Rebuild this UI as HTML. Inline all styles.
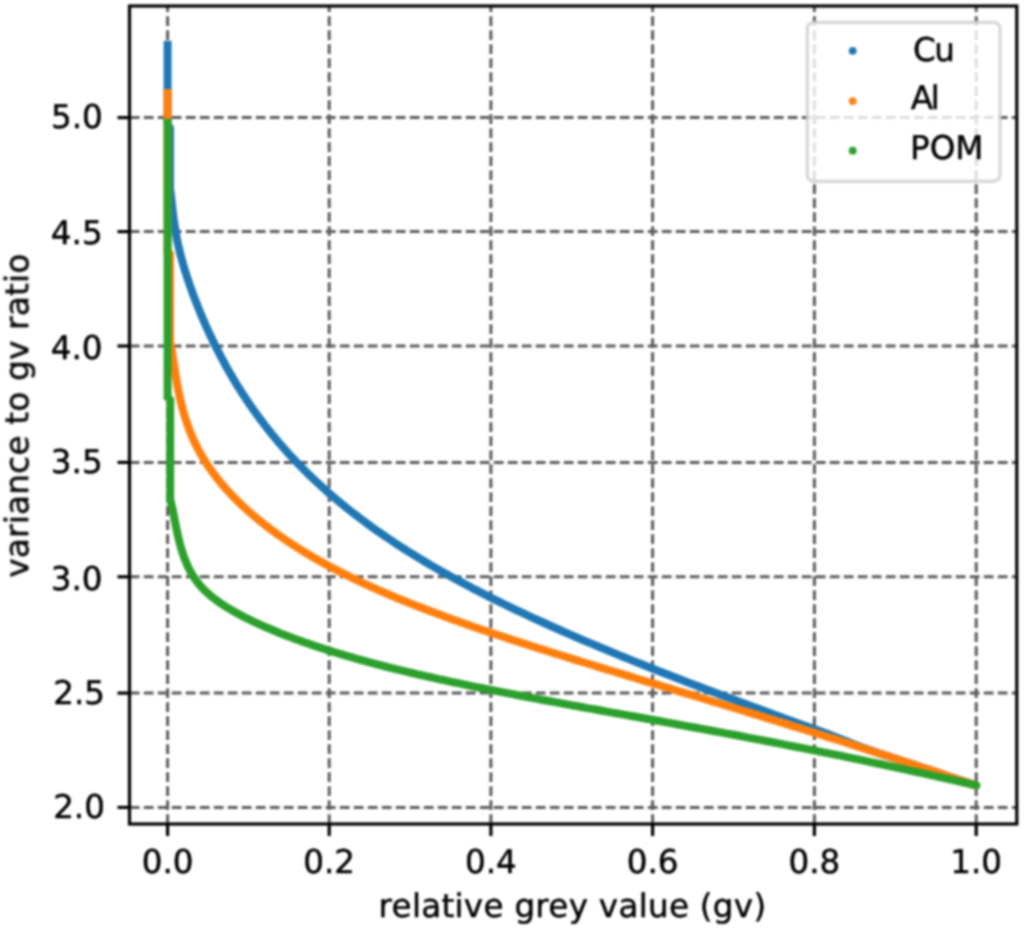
<!DOCTYPE html>
<html><head><meta charset="utf-8"><title>variance to gv ratio</title>
<style>html,body{margin:0;padding:0;background:#fff;width:1025px;height:930px;overflow:hidden}</style>
</head><body>
<svg width="1025" height="930" viewBox="0 0 1025 930" style="display:block" text-rendering="geometricPrecision">
<style>text{stroke:#000;stroke-width:0.45px;stroke-linejoin:round}</style>
<defs><filter id="soft" x="-2%" y="-2%" width="104%" height="104%" color-interpolation-filters="sRGB"><feGaussianBlur stdDeviation="1.0"/></filter></defs>
<rect width="1025" height="930" fill="#fff"/>
<g filter="url(#soft)">
<g stroke="#5c5c5c" stroke-width="3.0" stroke-dasharray="9.75 4.25"><line x1="167.6" y1="824.0" x2="167.6" y2="6.0"/><line x1="329.2" y1="824.0" x2="329.2" y2="6.0"/><line x1="490.9" y1="824.0" x2="490.9" y2="6.0"/><line x1="652.6" y1="824.0" x2="652.6" y2="6.0"/><line x1="814.4" y1="824.0" x2="814.4" y2="6.0"/><line x1="976.2" y1="824.0" x2="976.2" y2="6.0"/><line x1="129.8" y1="807.4" x2="1016.8" y2="807.4"/><line x1="129.8" y1="693.1" x2="1016.8" y2="693.1"/><line x1="129.8" y1="576.8" x2="1016.8" y2="576.8"/><line x1="129.8" y1="462.4" x2="1016.8" y2="462.4"/><line x1="129.8" y1="346.0" x2="1016.8" y2="346.0"/><line x1="129.8" y1="231.6" x2="1016.8" y2="231.6"/><line x1="129.8" y1="117.6" x2="1016.8" y2="117.6"/></g>
<polyline points="167.6,40.8 167.6,125.0" fill="none" stroke="#1f77b4" stroke-width="8.0" stroke-linecap="butt" stroke-linejoin="round"/>
<polyline points="170.0,128.0 170.0,190.0" fill="none" stroke="#1f77b4" stroke-width="8.0" stroke-linecap="round" stroke-linejoin="round"/>
<polyline points="170.0,190.0 170.0,190.0 170.1,190.0 170.1,190.1 170.1,190.1 170.1,190.2 170.2,190.3 170.2,190.4 170.2,190.5 170.3,190.6 170.3,190.7 170.3,190.9 170.4,191.1 170.4,191.2 170.4,191.4 170.5,191.6 170.5,191.9 170.5,192.1 170.6,192.3 170.6,192.6 170.6,192.8 170.7,193.1 170.7,193.4 170.7,193.7 170.8,194.0 170.8,194.3 170.9,194.6 170.9,194.9 170.9,195.2 171.0,195.6 171.0,195.9 171.0,196.3 171.1,196.6 171.1,197.0 171.2,197.4 171.2,197.8 171.3,198.2 171.3,198.5 171.3,199.0 171.4,199.4 171.4,199.8 171.5,200.2 171.5,200.6 171.6,201.0 171.6,201.5 171.7,201.9 171.7,202.4 171.8,202.8 171.8,203.3 171.9,203.7 171.9,204.2 172.0,204.6 172.0,205.1 172.1,205.6 172.1,206.0 172.2,206.5 172.2,207.0 172.3,207.5 172.3,208.0 172.4,208.5 172.4,208.9 172.5,209.4 172.5,209.9 172.6,210.4 172.7,210.9 172.7,211.4 172.8,211.9 172.8,212.4 172.9,212.9 173.0,213.5 173.0,214.0 173.1,214.5 173.2,215.0 173.2,215.5 173.3,216.0 173.4,216.6 173.4,217.1 173.5,217.6 173.6,218.1 173.6,218.6 173.7,219.2 173.8,219.7 173.8,220.2 173.9,220.7 174.0,221.3 174.1,221.8 174.1,222.3 174.2,222.9 174.3,223.4 174.4,223.9 174.5,224.5 174.5,225.0 174.6,225.5 174.7,226.1 174.8,226.6 174.9,227.1 175.0,227.7 175.0,228.2 175.1,228.7 175.2,229.3 175.3,229.8 175.4,230.4 175.5,230.9 175.6,231.4 175.7,232.0 175.8,232.5 175.9,233.1 176.0,233.6 176.1,234.2 176.2,234.7 176.3,235.3 176.4,235.8 176.5,236.4 176.6,236.9 176.7,237.4 176.8,238.0 176.9,238.5 177.0,239.1 177.1,239.7 177.2,240.2 177.3,240.8 177.4,241.3 177.6,241.9 177.7,242.4 177.8,243.0 177.9,243.5 178.0,244.1 178.2,244.7 178.3,245.2 178.4,245.8 178.5,246.4 178.7,246.9 178.8,247.5 178.9,248.1 179.1,248.6 179.2,249.2 179.3,249.8 179.5,250.4 179.6,250.9 179.7,251.5 179.9,252.1 180.0,252.7 180.2,253.3 180.3,253.9 180.5,254.4 180.6,255.0 180.8,255.6 180.9,256.2 181.1,256.8 181.2,257.4 181.4,258.0 181.6,258.6 181.7,259.2 181.9,259.8 182.1,260.4 182.2,261.1 182.4,261.7 182.6,262.3 182.8,262.9 182.9,263.5 183.1,264.2 183.3,264.8 183.5,265.4 183.7,266.1 183.9,266.7 184.0,267.4 184.2,268.0 184.4,268.7 184.6,269.3 184.8,270.0 185.0,270.6 185.2,271.3 185.4,271.9 185.7,272.6 185.9,273.3 186.1,274.0 186.3,274.6 186.5,275.3 186.7,276.0 187.0,276.7 187.2,277.4 187.4,278.1 187.6,278.8 187.9,279.5 188.1,280.2 188.4,281.0 188.6,281.7 188.9,282.4 189.1,283.1 189.4,283.9 189.6,284.6 189.9,285.3 190.1,286.1 190.4,286.8 190.7,287.6 190.9,288.4 191.2,289.1 191.5,289.9 191.8,290.7 192.0,291.5 192.3,292.3 192.6,293.0 192.9,293.8 193.2,294.6 193.5,295.4 193.8,296.3 194.1,297.1 194.4,297.9 194.7,298.7 195.1,299.6 195.4,300.4 195.7,301.2 196.0,302.1 196.4,302.9 196.7,303.8 197.1,304.7 197.4,305.5 197.8,306.4 198.1,307.3 198.5,308.2 198.8,309.1 199.2,310.0 199.6,310.9 199.9,311.8 200.3,312.7 200.7,313.7 201.1,314.6 201.5,315.5 201.9,316.5 202.3,317.4 202.7,318.4 203.1,319.3 203.5,320.3 203.9,321.3 204.4,322.2 204.8,323.2 205.2,324.2 205.7,325.2 206.1,326.2 206.6,327.2 207.0,328.2 207.5,329.3 208.0,330.3 208.4,331.3 208.9,332.4 209.4,333.4 209.9,334.5 210.4,335.5 210.9,336.6 211.4,337.6 211.9,338.7 212.4,339.8 213.0,340.9 213.5,342.0 214.0,343.1 214.6,344.2 215.1,345.3 215.7,346.4 216.2,347.6 216.8,348.7 217.4,349.8 218.0,351.0 218.6,352.1 219.2,353.3 219.8,354.5 220.4,355.6 221.0,356.8 221.6,358.0 222.3,359.2 222.9,360.4 223.6,361.6 224.2,362.8 224.9,364.0 225.5,365.2 226.2,366.5 226.9,367.7 227.6,368.9 228.3,370.2 229.0,371.4 229.7,372.7 230.5,373.9 231.2,375.2 232.0,376.5 232.7,377.8 233.5,379.1 234.2,380.4 235.0,381.7 235.8,383.0 236.6,384.3 237.4,385.6 238.2,386.9 239.1,388.2 239.9,389.6 240.8,390.9 241.6,392.3 242.5,393.6 243.4,395.0 244.3,396.3 245.2,397.7 246.1,399.1 247.0,400.4 247.9,401.8 248.9,403.2 249.8,404.6 250.8,406.0 251.8,407.4 252.7,408.8 253.7,410.2 254.8,411.7 255.8,413.1 256.8,414.5 257.9,415.9 258.9,417.4 260.0,418.8 261.1,420.3 262.2,421.7 263.3,423.2 264.4,424.7 265.5,426.1 266.7,427.6 267.8,429.1 269.0,430.6 270.2,432.1 271.4,433.6 272.6,435.0 273.9,436.6 275.1,438.1 276.4,439.6 277.6,441.1 278.9,442.6 280.2,444.1 281.6,445.7 282.9,447.2 284.3,448.7 285.6,450.3 287.0,451.8 288.4,453.4 289.8,454.9 291.3,456.5 292.7,458.0 294.2,459.6 295.7,461.2 297.2,462.8 298.7,464.3 300.2,465.9 301.8,467.5 303.4,469.1 304.9,470.7 306.6,472.3 308.2,473.9 309.8,475.5 311.5,477.1 313.2,478.7 314.9,480.3 316.6,481.9 318.4,483.6 320.2,485.2 321.9,486.8 323.8,488.5 325.6,490.1 327.4,491.7 329.3,493.4 331.2,495.0 333.1,496.7 335.1,498.3 337.0,500.0 339.0,501.6 341.0,503.3 343.1,505.0 345.1,506.6 347.2,508.3 349.3,510.0 351.4,511.7 353.6,513.4 355.8,515.0 358.0,516.7 360.2,518.4 362.5,520.1 364.8,521.8 367.1,523.5 369.4,525.2 371.8,527.0 374.2,528.7 376.6,530.4 379.1,532.1 381.5,533.8 384.1,535.6 386.6,537.3 389.2,539.0 391.8,540.8 394.4,542.5 397.1,544.3 399.7,546.0 402.5,547.8 405.2,549.5 408.0,551.3 410.8,553.1 413.7,554.8 416.6,556.6 419.5,558.4 422.4,560.2 425.4,562.0 428.5,563.8 431.5,565.6 434.6,567.4 437.8,569.2 440.9,571.0 444.1,572.8 447.4,574.6 450.7,576.4 454.0,578.3 457.3,580.1 460.7,581.9 464.2,583.8 467.7,585.6 471.2,587.5 474.7,589.4 478.3,591.2 482.0,593.1 485.7,595.0 489.4,596.9 493.2,598.8 497.0,600.7 500.9,602.6 504.8,604.5 508.7,606.4 512.7,608.3 516.8,610.3 520.9,612.2 525.0,614.2 529.2,616.1 533.4,618.1 537.7,620.0 542.1,622.0 546.5,624.0 550.9,626.0 555.4,628.0 560.0,630.0 564.6,632.1 569.2,634.1 573.9,636.2 578.7,638.2 583.5,640.3 588.4,642.4 593.3,644.4 598.3,646.5 603.4,648.7 608.5,650.8 613.7,652.9 618.9,655.1 624.2,657.2 629.6,659.4 635.0,661.6 640.5,663.8 646.0,666.0 651.6,668.2 657.3,670.5 663.0,672.7 668.9,675.0 674.7,677.3 680.7,679.6 686.7,681.9 692.8,684.2 699.0,686.6 705.2,689.0 711.5,691.3 717.9,693.7 724.3,696.2 730.9,698.6 737.5,701.1 744.2,703.6 750.9,706.1 757.8,708.6 764.7,711.1 771.7,713.7 778.8,716.3 786.0,718.9 793.2,721.5 800.5,724.2 808.0,726.8 815.5,729.5 823.1,732.3 830.8,735.1 838.6,738.2 846.4,741.3 854.4,744.4 862.4,747.4 870.6,750.3 878.8,753.2 887.2,755.9 895.6,758.7 904.2,761.5 912.8,764.3 921.6,767.2 930.4,770.1 939.3,773.1 948.4,776.2 957.6,779.3 966.8,782.4 976.2,785.6" fill="none" stroke="#1f77b4" stroke-width="8.0" stroke-linecap="round" stroke-linejoin="round"/>

<polyline points="167.6,88.9 167.6,254.0" fill="none" stroke="#ff7f0e" stroke-width="8.0" stroke-linecap="butt" stroke-linejoin="round"/>
<polyline points="170.0,254.0 170.0,343.0" fill="none" stroke="#ff7f0e" stroke-width="8.0" stroke-linecap="round" stroke-linejoin="round"/>
<polyline points="170.0,343.0 170.0,343.1 170.1,343.1 170.1,343.2 170.1,343.3 170.1,343.3 170.2,343.4 170.2,343.5 170.2,343.6 170.3,343.6 170.3,343.7 170.3,343.8 170.4,343.9 170.4,344.0 170.4,344.1 170.5,344.2 170.5,344.3 170.5,344.4 170.6,344.5 170.6,344.6 170.6,344.7 170.7,344.9 170.7,345.0 170.7,345.1 170.8,345.3 170.8,345.4 170.9,345.6 170.9,345.7 170.9,345.9 171.0,346.1 171.0,346.2 171.0,346.4 171.1,346.6 171.1,346.8 171.2,347.0 171.2,347.2 171.3,347.4 171.3,347.6 171.3,347.8 171.4,348.1 171.4,348.3 171.5,348.6 171.5,348.8 171.6,349.1 171.6,349.3 171.7,349.6 171.7,349.8 171.8,350.1 171.8,350.4 171.9,350.7 171.9,351.0 172.0,351.3 172.0,351.6 172.1,351.9 172.1,352.3 172.2,352.6 172.2,352.9 172.3,353.3 172.3,353.6 172.4,354.0 172.4,354.3 172.5,354.7 172.5,355.1 172.6,355.4 172.7,355.8 172.7,356.2 172.8,356.6 172.8,357.0 172.9,357.4 173.0,357.8 173.0,358.2 173.1,358.7 173.2,359.1 173.2,359.5 173.3,360.0 173.4,360.4 173.4,360.9 173.5,361.3 173.6,361.8 173.6,362.3 173.7,362.7 173.8,363.2 173.8,363.7 173.9,364.2 174.0,364.7 174.1,365.2 174.1,365.7 174.2,366.2 174.3,366.7 174.4,367.2 174.5,367.7 174.5,368.2 174.6,368.7 174.7,369.3 174.8,369.8 174.9,370.4 175.0,370.9 175.0,371.4 175.1,372.0 175.2,372.5 175.3,373.1 175.4,373.7 175.5,374.2 175.6,374.8 175.7,375.4 175.8,375.9 175.9,376.5 176.0,377.1 176.1,377.7 176.2,378.3 176.3,378.8 176.4,379.4 176.5,380.0 176.6,380.6 176.7,381.2 176.8,381.8 176.9,382.4 177.0,383.0 177.1,383.6 177.2,384.3 177.3,384.9 177.4,385.5 177.6,386.1 177.7,386.7 177.8,387.3 177.9,388.0 178.0,388.6 178.2,389.2 178.3,389.9 178.4,390.5 178.5,391.1 178.7,391.7 178.8,392.4 178.9,393.0 179.1,393.7 179.2,394.3 179.3,394.9 179.5,395.6 179.6,396.2 179.7,396.9 179.9,397.5 180.0,398.1 180.2,398.8 180.3,399.4 180.5,400.1 180.6,400.7 180.8,401.4 180.9,402.0 181.1,402.7 181.2,403.3 181.4,404.0 181.6,404.7 181.7,405.3 181.9,406.0 182.1,406.6 182.2,407.3 182.4,407.9 182.6,408.6 182.8,409.2 182.9,409.9 183.1,410.6 183.3,411.2 183.5,411.9 183.7,412.5 183.9,413.2 184.0,413.9 184.2,414.5 184.4,415.2 184.6,415.8 184.8,416.5 185.0,417.2 185.2,417.8 185.4,418.5 185.7,419.1 185.9,419.8 186.1,420.5 186.3,421.1 186.5,421.8 186.7,422.4 187.0,423.1 187.2,423.8 187.4,424.4 187.6,425.1 187.9,425.8 188.1,426.4 188.4,427.1 188.6,427.8 188.9,428.4 189.1,429.1 189.4,429.7 189.6,430.4 189.9,431.1 190.1,431.7 190.4,432.4 190.7,433.1 190.9,433.7 191.2,434.4 191.5,435.1 191.8,435.7 192.0,436.4 192.3,437.1 192.6,437.7 192.9,438.4 193.2,439.1 193.5,439.7 193.8,440.4 194.1,441.1 194.4,441.7 194.7,442.4 195.1,443.1 195.4,443.8 195.7,444.4 196.0,445.1 196.4,445.8 196.7,446.4 197.1,447.1 197.4,447.8 197.8,448.5 198.1,449.1 198.5,449.8 198.8,450.5 199.2,451.2 199.6,451.9 199.9,452.5 200.3,453.2 200.7,453.9 201.1,454.6 201.5,455.3 201.9,456.0 202.3,456.6 202.7,457.3 203.1,458.0 203.5,458.7 203.9,459.4 204.4,460.1 204.8,460.8 205.2,461.5 205.7,462.2 206.1,462.9 206.6,463.6 207.0,464.3 207.5,465.0 208.0,465.7 208.4,466.4 208.9,467.1 209.4,467.8 209.9,468.5 210.4,469.2 210.9,469.9 211.4,470.6 211.9,471.3 212.4,472.1 213.0,472.8 213.5,473.5 214.0,474.2 214.6,474.9 215.1,475.7 215.7,476.4 216.2,477.1 216.8,477.9 217.4,478.6 218.0,479.3 218.6,480.1 219.2,480.8 219.8,481.5 220.4,482.3 221.0,483.0 221.6,483.8 222.3,484.5 222.9,485.3 223.6,486.0 224.2,486.8 224.9,487.6 225.5,488.3 226.2,489.1 226.9,489.8 227.6,490.6 228.3,491.4 229.0,492.2 229.7,492.9 230.5,493.7 231.2,494.5 232.0,495.3 232.7,496.1 233.5,496.9 234.2,497.7 235.0,498.5 235.8,499.2 236.6,500.0 237.4,500.9 238.2,501.7 239.1,502.5 239.9,503.3 240.8,504.1 241.6,504.9 242.5,505.7 243.4,506.5 244.3,507.4 245.2,508.2 246.1,509.0 247.0,509.9 247.9,510.7 248.9,511.5 249.8,512.4 250.8,513.2 251.8,514.1 252.7,514.9 253.7,515.8 254.8,516.6 255.8,517.5 256.8,518.4 257.9,519.2 258.9,520.1 260.0,521.0 261.1,521.8 262.2,522.7 263.3,523.6 264.4,524.5 265.5,525.4 266.7,526.2 267.8,527.1 269.0,528.0 270.2,528.9 271.4,529.8 272.6,530.7 273.9,531.6 275.1,532.6 276.4,533.5 277.6,534.4 278.9,535.3 280.2,536.2 281.6,537.1 282.9,538.1 284.3,539.0 285.6,539.9 287.0,540.9 288.4,541.8 289.8,542.7 291.3,543.7 292.7,544.6 294.2,545.6 295.7,546.5 297.2,547.5 298.7,548.5 300.2,549.4 301.8,550.4 303.4,551.3 304.9,552.3 306.6,553.3 308.2,554.3 309.8,555.2 311.5,556.2 313.2,557.2 314.9,558.2 316.6,559.2 318.4,560.2 320.2,561.2 321.9,562.2 323.8,563.2 325.6,564.2 327.4,565.2 329.3,566.2 331.2,567.2 333.1,568.2 335.1,569.3 337.0,570.3 339.0,571.3 341.0,572.3 343.1,573.4 345.1,574.4 347.2,575.4 349.3,576.5 351.4,577.5 353.6,578.6 355.8,579.6 358.0,580.7 360.2,581.7 362.5,582.8 364.8,583.9 367.1,584.9 369.4,586.0 371.8,587.1 374.2,588.1 376.6,589.2 379.1,590.3 381.5,591.4 384.1,592.5 386.6,593.6 389.2,594.7 391.8,595.8 394.4,596.9 397.1,598.0 399.7,599.1 402.5,600.2 405.2,601.3 408.0,602.5 410.8,603.6 413.7,604.7 416.6,605.9 419.5,607.0 422.4,608.1 425.4,609.3 428.5,610.5 431.5,611.6 434.6,612.8 437.8,613.9 440.9,615.1 444.1,616.3 447.4,617.5 450.7,618.7 454.0,619.9 457.3,621.1 460.7,622.3 464.2,623.5 467.7,624.7 471.2,626.0 474.7,627.2 478.3,628.4 482.0,629.7 485.7,630.9 489.4,632.2 493.2,633.5 497.0,634.8 500.9,636.0 504.8,637.3 508.7,638.6 512.7,640.0 516.8,641.3 520.9,642.6 525.0,643.9 529.2,645.3 533.4,646.7 537.7,648.0 542.1,649.4 546.5,650.8 550.9,652.2 555.4,653.6 560.0,655.0 564.6,656.5 569.2,657.9 573.9,659.4 578.7,660.8 583.5,662.3 588.4,663.8 593.3,665.3 598.3,666.9 603.4,668.4 608.5,670.0 613.7,671.5 618.9,673.1 624.2,674.7 629.6,676.4 635.0,678.0 640.5,679.7 646.0,681.3 651.6,683.0 657.3,684.7 663.0,686.5 668.9,688.2 674.7,690.0 680.7,691.8 686.7,693.6 692.8,695.4 699.0,697.3 705.2,699.2 711.5,701.1 717.9,703.0 724.3,705.0 730.9,707.0 737.5,709.0 744.2,711.0 750.9,713.1 757.8,715.2 764.7,717.3 771.7,719.5 778.8,721.6 786.0,723.9 793.2,726.1 800.5,728.4 808.0,730.7 815.5,733.1 823.1,735.5 830.8,737.9 838.6,740.3 846.4,742.8 854.4,745.4 862.4,748.0 870.6,750.6 878.8,753.2 887.2,755.9 895.6,758.7 904.2,761.5 912.8,764.3 921.6,767.2 930.4,770.1 939.3,773.1 948.4,776.2 957.6,779.3 966.8,782.4 976.2,785.6" fill="none" stroke="#ff7f0e" stroke-width="8.0" stroke-linecap="round" stroke-linejoin="round"/>

<polyline points="167.6,118.7 167.6,400.0" fill="none" stroke="#2ca02c" stroke-width="8.0" stroke-linecap="butt" stroke-linejoin="round"/>
<polyline points="170.2,400.0 170.2,499.0" fill="none" stroke="#2ca02c" stroke-width="8.0" stroke-linecap="round" stroke-linejoin="round"/>
<polyline points="170.2,499.0 170.2,499.2 170.3,499.4 170.3,499.6 170.3,499.8 170.4,500.0 170.4,500.2 170.4,500.4 170.5,500.6 170.5,500.7 170.5,500.9 170.6,501.0 170.6,501.2 170.6,501.4 170.7,501.5 170.7,501.7 170.7,501.8 170.8,502.0 170.8,502.1 170.8,502.2 170.9,502.4 170.9,502.5 170.9,502.7 171.0,502.8 171.0,503.0 171.1,503.1 171.1,503.3 171.1,503.4 171.2,503.6 171.2,503.7 171.3,503.9 171.3,504.0 171.4,504.2 171.4,504.3 171.4,504.5 171.5,504.7 171.5,504.8 171.6,505.0 171.6,505.2 171.7,505.4 171.7,505.6 171.8,505.8 171.8,506.0 171.9,506.2 171.9,506.4 172.0,506.6 172.0,506.8 172.1,507.0 172.1,507.2 172.2,507.4 172.2,507.7 172.3,507.9 172.3,508.2 172.4,508.4 172.4,508.7 172.5,508.9 172.6,509.2 172.6,509.4 172.7,509.7 172.7,510.0 172.8,510.3 172.8,510.6 172.9,510.9 173.0,511.2 173.0,511.5 173.1,511.8 173.2,512.1 173.2,512.4 173.3,512.7 173.3,513.1 173.4,513.4 173.5,513.7 173.6,514.1 173.6,514.4 173.7,514.8 173.8,515.2 173.8,515.5 173.9,515.9 174.0,516.3 174.1,516.7 174.1,517.0 174.2,517.4 174.3,517.8 174.4,518.2 174.4,518.6 174.5,519.1 174.6,519.5 174.7,519.9 174.8,520.3 174.8,520.7 174.9,521.2 175.0,521.6 175.1,522.0 175.2,522.5 175.3,522.9 175.4,523.4 175.4,523.8 175.5,524.3 175.6,524.8 175.7,525.2 175.8,525.7 175.9,526.2 176.0,526.6 176.1,527.1 176.2,527.6 176.3,528.1 176.4,528.6 176.5,529.1 176.6,529.6 176.7,530.1 176.8,530.6 176.9,531.1 177.0,531.6 177.1,532.1 177.2,532.6 177.4,533.1 177.5,533.6 177.6,534.1 177.7,534.6 177.8,535.1 177.9,535.7 178.1,536.2 178.2,536.7 178.3,537.2 178.4,537.7 178.5,538.3 178.7,538.8 178.8,539.3 178.9,539.9 179.1,540.4 179.2,540.9 179.3,541.4 179.5,542.0 179.6,542.5 179.7,543.0 179.9,543.6 180.0,544.1 180.2,544.6 180.3,545.2 180.5,545.7 180.6,546.3 180.8,546.8 180.9,547.3 181.1,547.9 181.2,548.4 181.4,548.9 181.5,549.5 181.7,550.0 181.9,550.5 182.0,551.1 182.2,551.6 182.4,552.1 182.5,552.7 182.7,553.2 182.9,553.7 183.1,554.3 183.2,554.8 183.4,555.3 183.6,555.8 183.8,556.4 184.0,556.9 184.2,557.4 184.4,557.9 184.6,558.5 184.7,559.0 184.9,559.5 185.1,560.0 185.4,560.5 185.6,561.0 185.8,561.6 186.0,562.1 186.2,562.6 186.4,563.1 186.6,563.6 186.8,564.1 187.1,564.6 187.3,565.1 187.5,565.6 187.7,566.1 188.0,566.6 188.2,567.1 188.5,567.6 188.7,568.1 188.9,568.6 189.2,569.1 189.4,569.6 189.7,570.0 189.9,570.5 190.2,571.0 190.5,571.5 190.7,572.0 191.0,572.5 191.3,572.9 191.5,573.4 191.8,573.9 192.1,574.4 192.4,574.8 192.7,575.3 193.0,575.8 193.2,576.2 193.5,576.7 193.8,577.1 194.2,577.6 194.5,578.1 194.8,578.5 195.1,579.0 195.4,579.4 195.7,579.9 196.0,580.3 196.4,580.8 196.7,581.2 197.0,581.7 197.4,582.1 197.7,582.6 198.1,583.0 198.4,583.4 198.8,583.9 199.2,584.3 199.5,584.8 199.9,585.2 200.3,585.6 200.6,586.1 201.0,586.5 201.4,586.9 201.8,587.3 202.2,587.8 202.6,588.2 203.0,588.6 203.4,589.0 203.8,589.5 204.2,589.9 204.7,590.3 205.1,590.7 205.5,591.2 206.0,591.6 206.4,592.0 206.9,592.4 207.3,592.8 207.8,593.2 208.2,593.7 208.7,594.1 209.2,594.5 209.7,594.9 210.1,595.3 210.6,595.7 211.1,596.1 211.6,596.6 212.2,597.0 212.7,597.4 213.2,597.8 213.7,598.2 214.2,598.6 214.8,599.0 215.3,599.5 215.9,599.9 216.4,600.3 217.0,600.7 217.6,601.1 218.2,601.5 218.7,601.9 219.3,602.3 219.9,602.8 220.5,603.2 221.2,603.6 221.8,604.0 222.4,604.4 223.0,604.8 223.7,605.3 224.3,605.7 225.0,606.1 225.6,606.5 226.3,606.9 227.0,607.4 227.7,607.8 228.4,608.2 229.1,608.6 229.8,609.1 230.5,609.5 231.2,609.9 232.0,610.3 232.7,610.8 233.5,611.2 234.2,611.6 235.0,612.1 235.8,612.5 236.6,612.9 237.4,613.4 238.2,613.8 239.0,614.3 239.8,614.7 240.7,615.2 241.5,615.6 242.4,616.0 243.2,616.5 244.1,616.9 245.0,617.4 245.9,617.9 246.8,618.3 247.7,618.8 248.6,619.2 249.6,619.7 250.5,620.1 251.5,620.6 252.4,621.1 253.4,621.5 254.4,622.0 255.4,622.5 256.4,623.0 257.5,623.4 258.5,623.9 259.6,624.4 260.6,624.9 261.7,625.4 262.8,625.8 263.9,626.3 265.0,626.8 266.1,627.3 267.3,627.8 268.4,628.3 269.6,628.8 270.8,629.3 272.0,629.8 273.2,630.3 274.4,630.8 275.6,631.3 276.9,631.8 278.1,632.4 279.4,632.9 280.7,633.4 282.0,633.9 283.3,634.4 284.7,635.0 286.0,635.5 287.4,636.0 288.8,636.6 290.2,637.1 291.6,637.6 293.0,638.2 294.5,638.7 296.0,639.2 297.5,639.8 299.0,640.3 300.5,640.9 302.0,641.4 303.6,642.0 305.1,642.5 306.7,643.1 308.3,643.7 310.0,644.2 311.6,644.8 313.3,645.4 315.0,645.9 316.7,646.5 318.4,647.1 320.1,647.6 321.9,648.2 323.7,648.8 325.5,649.4 327.3,650.0 329.2,650.6 331.0,651.1 332.9,651.7 334.8,652.3 336.8,652.9 338.7,653.5 340.7,654.1 342.7,654.7 344.7,655.3 346.8,655.9 348.9,656.5 351.0,657.1 353.1,657.7 355.2,658.4 357.4,659.0 359.6,659.6 361.8,660.2 364.1,660.8 366.3,661.4 368.6,662.1 371.0,662.7 373.3,663.3 375.7,664.0 378.1,664.6 380.5,665.2 383.0,665.9 385.5,666.5 388.0,667.1 390.6,667.8 393.1,668.4 395.8,669.1 398.4,669.7 401.1,670.4 403.8,671.0 406.5,671.7 409.3,672.3 412.1,673.0 414.9,673.7 417.7,674.3 420.6,675.0 423.6,675.7 426.5,676.3 429.5,677.0 432.6,677.7 435.6,678.4 438.7,679.1 441.9,679.7 445.0,680.4 448.2,681.1 451.5,681.8 454.8,682.5 458.1,683.2 461.5,683.9 464.9,684.6 468.3,685.3 471.8,686.1 475.3,686.8 478.8,687.5 482.4,688.2 486.1,689.0 489.8,689.7 493.5,690.4 497.3,691.2 501.1,691.9 504.9,692.7 508.8,693.4 512.8,694.2 516.8,695.0 520.8,695.7 524.9,696.5 529.0,697.3 533.2,698.1 537.5,698.9 541.7,699.7 546.1,700.5 550.4,701.3 554.9,702.1 559.4,702.9 563.9,703.8 568.5,704.6 573.1,705.5 577.8,706.3 582.5,707.2 587.3,708.1 592.2,708.9 597.1,709.8 602.1,710.7 607.1,711.6 612.2,712.6 617.3,713.5 622.5,714.4 627.8,715.4 633.1,716.3 638.5,717.3 644.0,718.3 649.5,719.3 655.1,720.3 660.7,721.3 666.4,722.4 672.2,723.4 678.0,724.5 683.9,725.6 689.9,726.7 695.9,727.8 702.0,728.9 708.2,730.0 714.5,731.2 720.8,732.4 727.2,733.6 733.7,734.8 740.2,736.0 746.8,737.3 753.5,738.6 760.3,739.9 767.2,741.2 774.1,742.5 781.1,743.9 788.2,745.3 795.4,746.7 802.7,748.1 810.0,749.6 817.5,751.1 825.0,752.6 832.6,754.1 840.3,755.7 848.1,757.3 855.9,758.9 863.9,760.6 871.9,762.3 880.1,764.0 888.3,765.8 896.7,767.6 905.1,769.4 913.6,771.3 922.3,773.2 931.0,775.1 939.8,777.1 948.8,779.1 957.8,781.2 967.0,783.3 976.2,785.4" fill="none" stroke="#2ca02c" stroke-width="8.0" stroke-linecap="round" stroke-linejoin="round"/>

<rect x="129.5" y="6.0" width="887.3" height="818.0" fill="none" stroke="#000" stroke-width="3.2" stroke-linejoin="miter"/>
<g stroke="#000" stroke-width="3.2"><line x1="167.6" y1="824.0" x2="167.6" y2="836.0"/><line x1="329.2" y1="824.0" x2="329.2" y2="836.0"/><line x1="490.9" y1="824.0" x2="490.9" y2="836.0"/><line x1="652.6" y1="824.0" x2="652.6" y2="836.0"/><line x1="814.4" y1="824.0" x2="814.4" y2="836.0"/><line x1="976.2" y1="824.0" x2="976.2" y2="836.0"/><line x1="129.5" y1="807.4" x2="117.5" y2="807.4"/><line x1="129.5" y1="693.1" x2="117.5" y2="693.1"/><line x1="129.5" y1="576.8" x2="117.5" y2="576.8"/><line x1="129.5" y1="462.4" x2="117.5" y2="462.4"/><line x1="129.5" y1="346.0" x2="117.5" y2="346.0"/><line x1="129.5" y1="231.6" x2="117.5" y2="231.6"/><line x1="129.5" y1="117.6" x2="117.5" y2="117.6"/></g>
<g font-family="'DejaVu Sans', 'Liberation Sans', sans-serif" font-size="32.6" fill="#000"><text x="167.6" y="872.5" text-anchor="middle">0.0</text><text x="329.2" y="872.5" text-anchor="middle">0.2</text><text x="490.9" y="872.5" text-anchor="middle">0.4</text><text x="652.6" y="872.5" text-anchor="middle">0.6</text><text x="814.4" y="872.5" text-anchor="middle">0.8</text><text x="976.2" y="872.5" text-anchor="middle">1.0</text><text x="102.8" y="127.9" text-anchor="end">5.0</text><text x="102.65" y="244.4" text-anchor="end">4.5</text><text x="102.6" y="358.9" text-anchor="end">4.0</text><text x="102.65" y="473.0" text-anchor="end">3.5</text><text x="102.6" y="589.8" text-anchor="end">3.0</text><text x="105.0" y="703.8" text-anchor="end">2.5</text><text x="104.96" y="817.7" text-anchor="end">2.0</text></g>
<text x="572.35" y="917.4" text-anchor="middle" textLength="387.5" lengthAdjust="spacing" font-family="'DejaVu Sans', 'Liberation Sans', sans-serif" font-size="32.6">relative grey value (gv)</text>
<text transform="translate(28.2 415.6) rotate(-90)" x="0" y="0" text-anchor="middle" textLength="324.1" lengthAdjust="spacing" font-family="'DejaVu Sans', 'Liberation Sans', sans-serif" font-size="32.6">variance to gv ratio</text>
<rect x="807.3" y="22.3" width="192.8" height="159.0" rx="6.5" ry="6.5" fill="#fff" fill-opacity="0.8" stroke="#cccccc" stroke-opacity="0.8" stroke-width="3.2"/>
<circle cx="852.7" cy="50.8" r="3.9" fill="#1f77b4"/>
<text x="913.0" y="61.4" font-family="'DejaVu Sans', 'Liberation Sans', sans-serif" font-size="32.6">C<tspan dx="-1.5">u</tspan></text>
<circle cx="852.7" cy="101.1" r="3.9" fill="#ff7f0e"/>
<text x="910.85" y="109.1" font-family="'DejaVu Sans', 'Liberation Sans', sans-serif" font-size="32.6">A<tspan dx="-2.3">l</tspan></text>
<circle cx="852.7" cy="150.7" r="3.9" fill="#2ca02c"/>
<text x="910.0" y="159.0" font-family="'DejaVu Sans', 'Liberation Sans', sans-serif" font-size="32.6">POM</text>
</g>
</svg>
</body></html>
